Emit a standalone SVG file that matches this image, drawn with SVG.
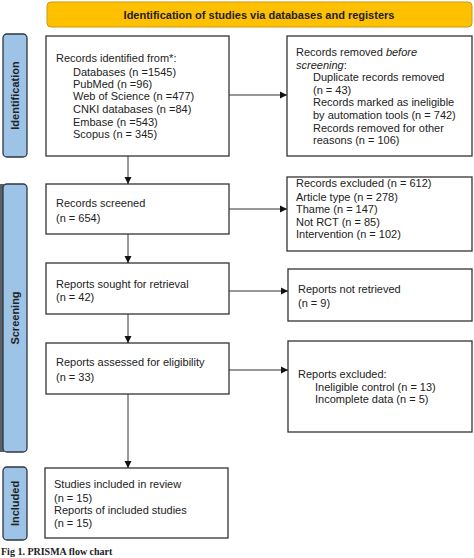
<svg xmlns="http://www.w3.org/2000/svg" width="474" height="558" viewBox="0 0 474 558">
<style>
.box{fill:#fff;stroke:#333;stroke-width:1.3}
.lab{fill:#9DC3E6;stroke:#2f3742;stroke-width:1.3}
.t{font-family:"Liberation Sans",Arial,sans-serif;font-size:11px;fill:#222}
.lt{font-family:"Liberation Sans",Arial,sans-serif;font-size:11px;font-weight:bold;fill:#222;text-anchor:middle}
.con{stroke:#333;stroke-width:1;fill:none;marker-end:url(#ah)}
</style>
<defs>
<marker id="ah" markerWidth="8" markerHeight="8" refX="7" refY="4" orient="auto" markerUnits="userSpaceOnUse">
<path d="M0,0.5 L7,4 L0,7.5 z" fill="#111"/>
</marker>
</defs>
<rect width="474" height="558" fill="#fff"/>
<g id="banner">
<rect x="47" y="2" width="425" height="25" rx="4" fill="#FFC000" stroke="#c99a10" stroke-width="1"/>
<text class="lt" x="259" y="19">Identification of studies via databases and registers</text>
</g>
<g id="lab-identification">
<rect class="lab" x="3" y="34" width="24" height="123" rx="4"/>
<text class="lt" transform="translate(19,95.5) rotate(-90)">Identification</text>
</g>
<g id="lab-screening">
<rect x="0" y="184" width="4" height="268" fill="#5a6068"/>
<rect class="lab" x="3" y="184" width="24" height="268" rx="4"/>
<text class="lt" transform="translate(19,318) rotate(-90)">Screening</text>
</g>
<g id="lab-included">
<rect class="lab" x="3" y="467" width="24" height="73" rx="4"/>
<text class="lt" transform="translate(19,503.5) rotate(-90)">Included</text>
</g>
<g id="identified">
<rect class="box" x="46" y="36" width="183" height="120"/>
<text class="t" x="56" y="62">Records identified from*:</text>
<text class="t" x="73" y="75.5">Databases (n =1545)</text>
<text class="t" x="73" y="87.5">PubMed (n =96)</text>
<text class="t" x="73" y="100">Web of Science (n =477)</text>
<text class="t" x="73" y="113">CNKI databases (n =84)</text>
<text class="t" x="73" y="125.5">Embase (n =543)</text>
<text class="t" x="73" y="138">Scopus (n = 345)</text>
</g>
<g id="removed">
<rect class="box" x="287" y="36" width="185" height="120"/>
<text class="t" x="296" y="56">Records removed <tspan font-style="italic">before</tspan></text>
<text class="t" x="296" y="68.5"><tspan font-style="italic">screening</tspan>:</text>
<text class="t" x="313" y="81">Duplicate records removed</text>
<text class="t" x="313" y="93.5">(n = 43)</text>
<text class="t" x="313" y="106">Records marked as ineligible</text>
<text class="t" x="313" y="119">by automation tools (n = 742)</text>
<text class="t" x="313" y="131.5">Records removed for other</text>
<text class="t" x="313" y="144">reasons (n = 106)</text>
</g>
<g id="screened">
<rect class="box" x="46" y="184" width="183" height="50"/>
<text class="t" x="56" y="206.5">Records screened</text>
<text class="t" x="56" y="222">(n = 654)</text>
</g>
<g id="excluded">
<rect class="box" x="287" y="177" width="185" height="74"/>
<text class="t" x="296" y="187">Records excluded (n = 612)</text>
<text class="t" x="296" y="200.5">Article type (n = 278)</text>
<text class="t" x="296" y="213">Thame (n = 147)</text>
<text class="t" x="296" y="225.5">Not RCT  (n = 85)</text>
<text class="t" x="296" y="238">Intervention (n = 102)</text>
</g>
<g id="sought">
<rect class="box" x="46" y="263" width="183" height="51"/>
<text class="t" x="56" y="288">Reports sought for retrieval</text>
<text class="t" x="56" y="300.5">(n = 42)</text>
</g>
<g id="notretrieved">
<rect class="box" x="288" y="269" width="184" height="52"/>
<text class="t" x="298" y="293">Reports not retrieved</text>
<text class="t" x="298" y="306.5">(n = 9)</text>
</g>
<g id="assessed">
<rect class="box" x="46" y="343" width="183" height="51"/>
<text class="t" x="56" y="366">Reports assessed for eligibility</text>
<text class="t" x="56" y="381">(n = 33)</text>
</g>
<g id="reportsexcluded">
<rect class="box" x="288" y="341" width="184" height="91"/>
<text class="t" x="298" y="378">Reports excluded:</text>
<text class="t" x="315" y="391">Ineligible control (n = 13)</text>
<text class="t" x="315" y="403">Incomplete data (n = 5)</text>
</g>
<g id="included">
<rect class="box" x="45" y="468" width="183" height="70"/>
<text class="t" x="54" y="488">Studies included in review</text>
<text class="t" x="54" y="501.5">(n = 15)</text>
<text class="t" x="54" y="514">Reports of included studies</text>
<text class="t" x="54" y="526.5">(n = 15)</text>
</g>
<g id="connectors">
<line class="con" x1="229" y1="95" x2="287" y2="95"/>
<line class="con" x1="128" y1="156" x2="128" y2="184"/>
<line class="con" x1="229" y1="209" x2="287" y2="209"/>
<line class="con" x1="128" y1="234" x2="128" y2="263"/>
<line class="con" x1="229" y1="291" x2="288" y2="291"/>
<line class="con" x1="128" y1="314" x2="128" y2="343"/>
<line class="con" x1="229" y1="370" x2="288" y2="370"/>
<line class="con" x1="128" y1="394" x2="128" y2="468"/>
</g>
<text x="1" y="555" font-family="Liberation Serif,'Times New Roman',serif" font-size="10" font-weight="bold" fill="#222">Fig 1.  PRISMA flow chart</text>
</svg>
